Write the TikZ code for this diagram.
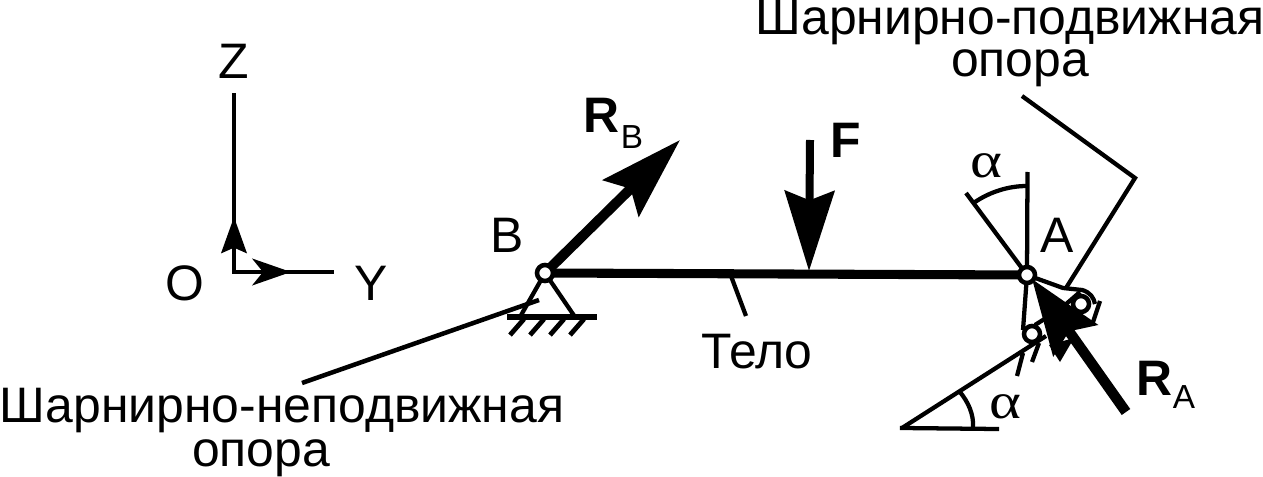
\documentclass[tikz,border=0pt]{standalone}
\usepackage{fontspec}
\usepackage{graphicx}
\setmainfont{Liberation Sans}
\newfontfamily\greekserif{Liberation Serif}
\usetikzlibrary{arrows.meta}
\tikzset{
  px/.style={x=0.75pt,y=-0.75pt},
  lbl/.style={font=\fontsize{37.4}{39}\selectfont,inner sep=0pt,text=black},
  sym/.style={font=\fontsize{38}{40}\selectfont\greekserif,inner sep=0pt},
  boldlbl/.style={font=\fontsize{37.4}{39}\selectfont\bfseries,inner sep=0pt},
  sub/.style={font=\fontsize{25}{27}\selectfont,inner sep=0pt},
  thin line/.style={line width=3.2pt,line cap=butt},
  beam/.style={line width=6.8pt},
  pin/.style={circle,draw,line width=3.4pt,fill=white,minimum size=12pt,inner sep=0pt},
  axis arrow Z/.style={-{Stealth[length=27pt,width=19pt,inset=4pt]}},
  axis arrow Y/.style={-{Stealth[length=29pt,width=20pt,inset=8pt]}},
  force/.style={line width=7.5pt,-{Stealth[length=62pt,width=38pt,inset=10pt]}},
  force A/.style={line width=7.8pt,-{Stealth[length=56pt,width=40pt,inset=8pt]}},
  force F/.style={line width=6pt,-{Stealth[length=60pt,width=37pt,inset=7pt]}},
}
\begin{document}
\begin{tikzpicture}[px]
\useasboundingbox (0,0) rectangle (1263,477);
% axes
\coordinate (O) at (234,272);
\coordinate (Zt) at (234,95);
\coordinate (Yt) at (332,272);
\coordinate (Zh) at (234,217);
\coordinate (Yh) at (291,272);
\draw[thin line,line cap=rect] (Zt) -- (O) -- (Yt);
\draw[thin line,axis arrow Z] (O) -- (Zh);
\draw[thin line,axis arrow Y] (O) -- (Yh);
\node[lbl] (lZ) at (234,61) {Z};
\node[lbl] (lO) at (185,283) {O};
\node[lbl] (lY) at (371,283) {Y};
% coordinates
\coordinate (Bc) at (545,273);
\coordinate (Ac) at (1027,275);
% support B
\coordinate (BL) at (520,317);
\coordinate (BR) at (575,317);
\coordinate (G1) at (507,317);
\coordinate (G2) at (597,317);
\draw[thin line] (Bc) -- (BL);
\draw[thin line] (Bc) -- (BR);
\draw[thin line,line width=4.5pt] (G1) -- (G2);
\foreach \x in {510,530,550,570}
  \draw[thin line,line width=3.6pt] (\x,335) -- (\x+14,319);
% beam
\draw[beam] (Bc) -- (Ac);
% RB
\coordinate (RBt) at (680,140);
\draw[force] (Bc) -- (RBt);
% F
\coordinate (Ft) at (810,140);
\coordinate (Fb) at (809,271);
\draw[force F] (Ft) -- (Fb);
% Leader Telo
\coordinate (T1) at (731,276);
\coordinate (T2) at (746,316);
\draw[thin line] (T1) -- (T2);
% Leader fixed support
\coordinate (L1) at (302,383);
\coordinate (L2) at (539,300);
\draw[thin line,line width=3.4pt] (L1) -- (L2);
% angle at A
\coordinate (Vt) at (1027.5,172);
\coordinate (Dt) at (966,193);
\draw[thin line] (Ac) -- (Vt);
\draw[thin line] (Ac) -- (Dt);
\draw[thin line] (975,202) .. controls (990,192) and (1008,186) .. (1027,186);
% leader moving support
\coordinate (M1) at (1022,96);
\coordinate (M2) at (1135,178);
\coordinate (M3) at (1066,288);
\draw[thin line,line join=miter] (M1) -- (M2) -- (M3);
% moving support
\coordinate (Plow) at (1032,334);
\coordinate (Pup) at (1081,304);
\coordinate (Base0) at (902,428);
\coordinate (Base1) at (997,429);
\draw[thin line] (Base0) -- (1046,336);
\draw[thin line,line cap=rect] (Base0) -- (Base1);
\draw[thin line] (960,392) .. controls (968,402) and (974,414) .. (973,428);
\draw[thin line] (Ac) -- (1023,330);
\draw[thin line] (Ac) -- (1063,288) -- (1082,290) .. controls (1090,292) and (1094,298) .. (1095,304);
\draw[thin line] (1017,376) -- (1023,353);
\draw[thin line] (1032,362) -- (1039,343);
\draw[thin line] (1092,325) -- (1100,301);
\draw[thin line] (1035,325) -- (1046,318);
\draw[thin line] (1065,305) -- (1080,292);
\node[pin] (nPlow) at (Plow) {};
\node[pin] (nPup) at (Pup) {};
% RA
\coordinate (RAb) at (1126,412);
\coordinate (RAt) at (1032,279);
\draw[force A] (RAb) -- (RAt);
\fill (1049,345) -- (1060,362) -- (1074,338) -- cycle;
% pins
\node[pin] (pinB) at (Bc) {};
\node[pin] (pinA) at (Ac) {};
% labels
\node[lbl] (lB) at (507,235) {B};
\node[lbl] (lA) at (1057,235) {A};
\node[boldlbl] (lRB) at (601,115) {R};
\node[sub] (lRBs) at (632,137) {B};
\node[boldlbl] (lF) at (846,140) {F};
\node[boldlbl] (lRA) at (1154,378) {R};
\node[sub] (lRAs) at (1184,397) {A};
\node[sym] (la1) at (986,166) {\scalebox{1.2}[1]{α}};
\node[sym] (la2) at (1005,407) {\scalebox{1.2}[1]{α}};
\node[lbl] (lTelo) at (757,352) {Тело};
\node[lbl,anchor=base] (lMov1) at (1010,35) {Шарнирно-подвижная};
\node[lbl,anchor=base] (lMov2) at (1020,77) {опора};
\node[lbl,anchor=base] (lFix1) at (282,422) {Шарнирно-неподвижная};
\node[lbl,anchor=base] (lFix2) at (261,466) {опора};
\end{tikzpicture}
\end{document}
